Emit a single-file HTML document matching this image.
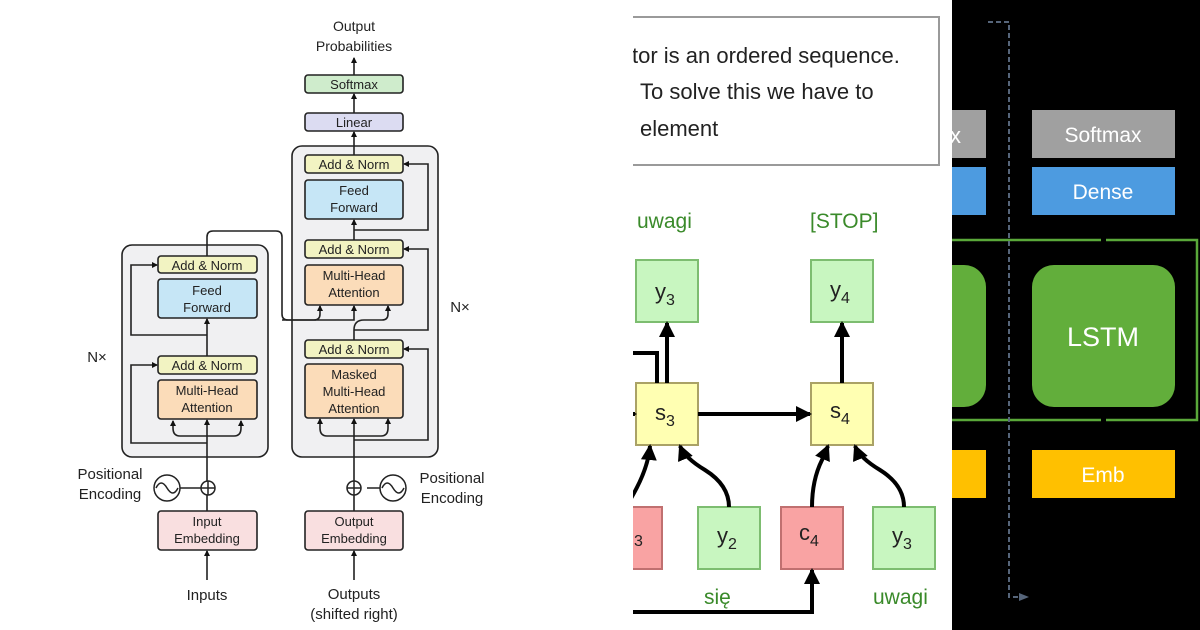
<!DOCTYPE html>
<html><head><meta charset="utf-8"><style>
html,body{margin:0;padding:0;background:#fff}
svg{display:block}
text{font-family:"Liberation Sans",sans-serif}
</style></head><body>
<svg width="1200" height="630" viewBox="0 0 1200 630" xmlns="http://www.w3.org/2000/svg">
<defs>
<marker id="a" markerWidth="6" markerHeight="6" refX="5" refY="3" orient="auto" markerUnits="userSpaceOnUse"><path d="M0,0L6,3L0,6z" fill="#111"/></marker>
<marker id="b" markerWidth="16" markerHeight="16" refX="14" refY="8" orient="auto" markerUnits="userSpaceOnUse"><path d="M0,0L16,8L0,16z" fill="#000"/></marker>
<marker id="c" markerWidth="10" markerHeight="8" refX="9" refY="4" orient="auto" markerUnits="userSpaceOnUse"><path d="M0,0L10,4L0,8z" fill="#56657a"/></marker>
<clipPath id="cm"><rect x="633" y="0" width="319" height="630"/></clipPath>
<clipPath id="cr"><rect x="952" y="0" width="248" height="630"/></clipPath>
</defs>
<rect width="1200" height="630" fill="#fff"/>
<!-- LEFT PANEL -->
<g font-size="14" fill="#222" text-anchor="middle">
<text x="354" y="31">Output</text><text x="354" y="51">Probabilities</text>
</g>
<g stroke="#222" stroke-width="1.6" fill="none">
<rect x="122" y="245" width="146" height="212" rx="10" fill="#f0f0f2"/>
<rect x="292" y="146" width="146" height="311" rx="10" fill="#f0f0f2"/>
</g>
<g stroke="#222" stroke-width="1.6" fill="none" marker-end="url(#a)">
<line x1="354" y1="75" x2="354" y2="58"/>
<line x1="354" y1="113" x2="354" y2="94"/>
<line x1="354" y1="155" x2="354" y2="132"/>
<line x1="354" y1="240" x2="354" y2="220"/>
<line x1="207" y1="356" x2="207" y2="319"/>
<line x1="207" y1="580" x2="207" y2="551"/>
<line x1="354" y1="580" x2="354" y2="551"/>
<path d="M207 511V420"/>
<path d="M354 511V419"/>
<path d="M207 443H131V365H157"/>
<path d="M207 335H131V265H157"/>
<path d="M354 440H428V349H404"/>
<path d="M354 330H428V249H404"/>
<path d="M354 230H428V164H404"/>
<path d="M207 436H180Q173 436 173 428V421"/>
<path d="M207 436H234Q241 436 241 428V421"/>
<path d="M354 436H327Q320 436 320 428V419"/>
<path d="M354 436H381Q388 436 388 428V419"/>
<path d="M207 256V237Q207 231 213 231H276Q282 231 282 237V314Q282 320 288 320H314Q320 320 320 314V306"/>
<path d="M282 320H354V306"/>
<path d="M354 340V330Q354 320 364 320H382Q388 320 388 314V306"/>
</g>
<g stroke="#222" stroke-width="1.6">
<rect x="305" y="75" width="98" height="18" rx="3" fill="#cfeccc"/>
<rect x="305" y="113" width="98" height="18" rx="3" fill="#dcdcf2"/>
<rect x="305" y="155" width="98" height="18" rx="3" fill="#f2f3c2"/>
<rect x="305" y="180" width="98" height="39" rx="3" fill="#c6e6f6"/>
<rect x="305" y="240" width="98" height="18" rx="3" fill="#f2f3c2"/>
<rect x="305" y="265" width="98" height="40" rx="3" fill="#fbdcb9"/>
<rect x="305" y="340" width="98" height="18" rx="3" fill="#f2f3c2"/>
<rect x="305" y="364" width="98" height="54" rx="3" fill="#fbdcb9"/>
<rect x="158" y="256" width="99" height="17" rx="3" fill="#f2f3c2"/>
<rect x="158" y="279" width="99" height="39" rx="3" fill="#c6e6f6"/>
<rect x="158" y="356" width="99" height="18" rx="3" fill="#f2f3c2"/>
<rect x="158" y="380" width="99" height="39" rx="3" fill="#fbdcb9"/>
<rect x="158" y="511" width="99" height="39" rx="3" fill="#f9dfe0"/>
<rect x="305" y="511" width="98" height="39" rx="3" fill="#f9dfe0"/>
</g>
<g font-size="13" fill="#222" text-anchor="middle">
<text x="354" y="89">Softmax</text><text x="354" y="127">Linear</text>
<text x="354" y="169">Add &amp; Norm</text><text x="354" y="195">Feed</text><text x="354" y="212">Forward</text>
<text x="354" y="254">Add &amp; Norm</text><text x="354" y="280">Multi-Head</text><text x="354" y="297">Attention</text>
<text x="354" y="354">Add &amp; Norm</text><text x="354" y="379">Masked</text><text x="354" y="396">Multi-Head</text><text x="354" y="413">Attention</text>
<text x="207" y="270">Add &amp; Norm</text><text x="207" y="295">Feed</text><text x="207" y="312">Forward</text>
<text x="207" y="370">Add &amp; Norm</text><text x="207" y="395">Multi-Head</text><text x="207" y="412">Attention</text>
<text x="207" y="526">Input</text><text x="207" y="543">Embedding</text>
<text x="354" y="526">Output</text><text x="354" y="543">Embedding</text>
</g>
<g font-size="15" fill="#222" text-anchor="middle">
<text x="97" y="362">N×</text><text x="460" y="312">N×</text>
<text x="110" y="479">Positional</text><text x="110" y="499">Encoding</text>
<text x="452" y="483">Positional</text><text x="452" y="503">Encoding</text>
<text x="207" y="600">Inputs</text>
<text x="354" y="599">Outputs</text><text x="354" y="619">(shifted right)</text>
</g>
<g stroke="#222" stroke-width="1.5" fill="#fff">
<circle cx="208" cy="488" r="7"/><circle cx="354" cy="488" r="7"/>
<circle cx="167" cy="488" r="13"/><circle cx="393" cy="488" r="13"/>
</g>
<g stroke="#222" stroke-width="1.5" fill="none">
<path d="M201 488H215M208 481V495M347 488H361M354 481V495M180 488H201M367 488H380"/>
<path d="M156 488Q161 478 167 488T178 488"/><path d="M382 488Q387 478 393 488T404 488"/>
</g>
<!-- MIDDLE PANEL -->
<g clip-path="url(#cm)">
<rect x="632" y="0" width="320" height="630" fill="#fff"/>
<rect x="600" y="17" width="339" height="148" fill="#fff" stroke="#9a9a9a" stroke-width="2"/>
<g font-size="22" fill="#222">
<text x="632" y="63">tor is an ordered sequence.</text>
<text x="640" y="99">To solve this we have to</text>
<text x="640" y="136">element</text>
</g>
<g font-size="21" fill="#3a8a2a">
<text x="637" y="228">uwagi</text><text x="810" y="228">[STOP]</text>
<text x="704" y="604">się</text><text x="873" y="604">uwagi</text>
</g>
<g stroke-width="2">
<rect x="636" y="260" width="62" height="62" fill="#c8f6c0" stroke="#7dbd70"/>
<rect x="811" y="260" width="62" height="62" fill="#c8f6c0" stroke="#7dbd70"/>
<rect x="636" y="383" width="62" height="62" fill="#ffffb2" stroke="#aaa266"/>
<rect x="811" y="383" width="62" height="62" fill="#ffffb2" stroke="#aaa266"/>
<rect x="600" y="507" width="62" height="62" fill="#f9a3a3" stroke="#c07070"/>
<rect x="698" y="507" width="62" height="62" fill="#c8f6c0" stroke="#7dbd70"/>
<rect x="781" y="507" width="62" height="62" fill="#f9a3a3" stroke="#c07070"/>
<rect x="873" y="507" width="62" height="62" fill="#c8f6c0" stroke="#7dbd70"/>
</g>
<g font-size="22" fill="#222">
<text x="655" y="299">y<tspan font-size="16" dy="6">3</tspan></text>
<text x="830" y="297">y<tspan font-size="16" dy="6">4</tspan></text>
<text x="655" y="420">s<tspan font-size="16" dy="6">3</tspan></text>
<text x="830" y="418">s<tspan font-size="16" dy="6">4</tspan></text>
<text x="634" y="546"><tspan font-size="16">3</tspan></text>
<text x="717" y="543">y<tspan font-size="16" dy="6">2</tspan></text>
<text x="799" y="540">c<tspan font-size="16" dy="6">4</tspan></text>
<text x="892" y="543">y<tspan font-size="16" dy="6">3</tspan></text>
</g>
<g stroke="#000" stroke-width="4" fill="none" marker-end="url(#b)">
<line x1="667" y1="383" x2="667" y2="323"/>
<line x1="842" y1="383" x2="842" y2="323"/>
<line x1="698" y1="414" x2="810" y2="414"/>
<line x1="600" y1="414" x2="635" y2="414"/>
<path d="M600 612H812V570"/>
<path d="M812 507Q812 480 822 460L828 446"/>
<path d="M904 507Q904 485 880 470Q860 458 855 446"/>
<path d="M729 507Q729 485 705 470Q685 458 680 446"/>
<path d="M630 500Q648 470 650 446"/>
</g>
<path d="M600 353H657V383" stroke="#000" stroke-width="4" fill="none"/>
</g>
<!-- RIGHT PANEL -->
<g clip-path="url(#cr)">
<rect x="952" y="0" width="248" height="630" fill="#000"/>
<rect x="930" y="110" width="56" height="48" fill="#a0a0a0"/>
<text x="950" y="143" font-size="22" fill="#fff" font-family="DejaVu Sans">x</text>
<rect x="1032" y="110" width="143" height="48" fill="#a0a0a0"/>
<rect x="930" y="167" width="56" height="48" fill="#4d9be0"/>
<rect x="1032" y="167" width="143" height="48" fill="#4d9be0"/>
<path d="M940 240H1101M1106 240H1197V420H1106M1101 420H940" stroke="#5aa83a" stroke-width="2.5" fill="none"/>
<rect x="930" y="265" width="56" height="142" rx="22" fill="#62ae3b"/>
<rect x="1032" y="265" width="143" height="142" rx="22" fill="#62ae3b"/>
<rect x="930" y="450" width="56" height="48" fill="#ffc000"/>
<rect x="1032" y="450" width="143" height="48" fill="#ffc000"/>
<g fill="#fff" text-anchor="middle" font-family="DejaVu Sans" font-size="21">
<text x="1103" y="142">Softmax</text>
<text x="1103" y="199">Dense</text>
<text x="1103" y="346" font-size="27">LSTM</text>
<text x="1103" y="482">Emb</text>
</g>
<path d="M988 22H1009V597H1028" stroke="#56657a" stroke-width="2" stroke-dasharray="5,3" fill="none" marker-end="url(#c)"/>
</g>
</svg>
</body></html>
